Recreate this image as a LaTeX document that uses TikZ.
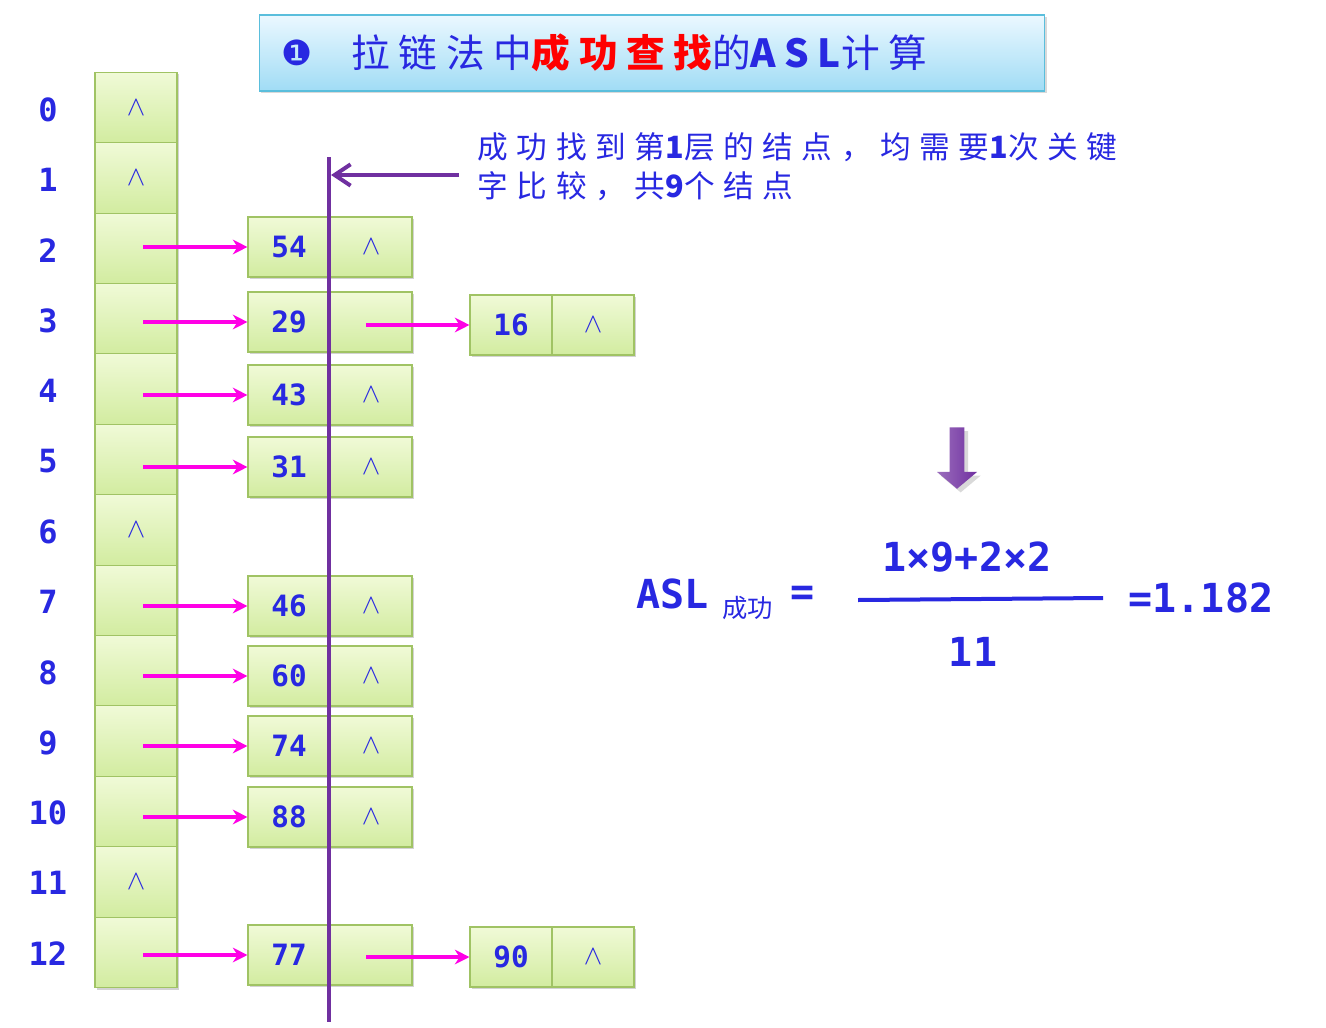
\documentclass[tikz,border=0pt]{standalone}
\usepackage{fontspec}
\setmainfont{DejaVu Sans Mono}
\newfontfamily\cjk{Noto Sans CJK SC}
\newfontfamily\cjkt[LetterSpace=22]{Noto Sans CJK SC}
\newfontfamily\cjkd[LetterSpace=28]{Noto Sans CJK SC}
\newfontfamily\djfont{DejaVu Sans}
\usetikzlibrary{arrows.meta,shadows,shapes.arrows}
\definecolor{tb}{RGB}{40,40,225}
\definecolor{mg}{RGB}{255,0,230}
\definecolor{pu}{RGB}{112,48,160}
\definecolor{gfa}{RGB}{240,250,215}
\definecolor{gfb}{RGB}{210,236,160}
\definecolor{gbd}{RGB}{160,195,100}
\tikzset{
 cell/.style={draw=gbd,line width=0.8pt,top color=gfa,bottom color=gfb,minimum width=61.5pt,minimum height=52.5pt,inner sep=0pt,text=tb,font=\bfseries\fontsize{22}{22}\selectfont,drop shadow={shadow xshift=1.5pt,shadow yshift=-1.5pt,opacity=0.35}},
 hcell/.style={cell,minimum height=45pt},
 idx/.style={text=tb,font=\bfseries\fontsize{24}{24}\selectfont},
 ptr/.style={mg,line width=2.6pt,-{Stealth[length=11pt,width=11pt]}},
}
\begin{document}
\begin{tikzpicture}[x=0.75pt,y=-0.75pt]
\useasboundingbox (0,0) rectangle (1326,1027);
% title
\node[draw={rgb,255:red,90;green,190;blue,220},line width=1pt,top color={rgb,255:red,235;green,248;blue,255},bottom color={rgb,255:red,160;green,220;blue,245},minimum width=589pt,minimum height=57pt,drop shadow={shadow xshift=1.5pt,shadow yshift=-1.5pt,opacity=0.3}] (title) at (652,53) {};
\node[text=tb,font=\djfont\fontsize{26}{26}\selectfont] (t1) at (297,53) {❶};
\node[anchor=west,text=tb,font=\cjkt\fontsize{29}{29}\selectfont] (tt) at (347,53) {拉链法中\textcolor{red}{\bfseries 成功查找}的{\bfseries ASL}计算};
% left column
\foreach \i in {0,...,12}{
 \node[cell,minimum height=52.8pt] (h\i) at (136,{107.5+70.4*\i}) {};
 \node[idx] (n\i) at (48,{110+70.3*\i}) {\i};
}
\foreach \i in {0,1,6,11}{ \node[text=tb,font=\fontsize{20}{20}\selectfont] (hn\i) at (h\i) {$\wedge$}; }
% chain nodes
\foreach \i/\k/\nx/\y in {2/54/1/247,3/29/0/322,4/43/1/395,5/31/1/467,7/46/1/606,8/60/1/676,9/74/1/746,10/88/1/817,12/77/0/955}{
 \node[hcell] (k\i) at (289,\y) {\k};
 \node[hcell] (p\i) at (371,\y) {\ifnum\nx=1 $\wedge$\fi};
 \draw[ptr] (143,\y) -- (k\i.west);
}
\node[hcell] (k3b) at (511,325) {16};
\node[hcell] (p3b) at (593,325) {$\wedge$};
\node[hcell] (k12b) at (511,957) {90};
\node[hcell] (p12b) at (593,957) {$\wedge$};
\draw[ptr] (366,325) -- (k3b.west);
\draw[ptr] (366,957) -- (k12b.west);
% purple line
\coordinate (vt) at (329,157); \coordinate (vb) at (329,1022);
\draw[pu,line width=3.5pt] (vt) -- (vb);
\coordinate (as) at (459,175); \coordinate (ae) at (331,175);
\draw[pu,line width=3pt,-{Straight Barb[length=12pt,width=16pt]}] (as) -- (ae);
\node[anchor=west,text=tb,font=\cjkd\fontsize{23}{23}\selectfont,align=left] (desc) at (473,167) {成功找到第{\bfseries 1}层的结点，均需要{\bfseries 1}次关键\\[6pt]字比较，共{\bfseries 9}个结点};
% down arrow
\node[single arrow,shape border rotate=270,left color=pu!70,right color=pu,draw=none,minimum width=30pt,minimum height=46pt,single arrow head extend=6pt,single arrow tip angle=100,drop shadow={opacity=0.3}] (down) at (957,455) {};
% formula
\node[anchor=west,text=tb,font=\bfseries\fontsize{30}{30}\selectfont] (asl) at (632,594) {ASL};
\node[anchor=west,text=tb,font=\cjk\fontsize{19}{19}\selectfont,inner sep=0pt] (sub) at (722,608) {成功};
\node[text=tb,font=\bfseries\fontsize{30}{30}\selectfont] (eq) at (803,596) {=};
\node[text=tb,font=\bfseries\fontsize{30}{30}\selectfont] (num) at (967,557) {1×9+2×2};
\coordinate (fl) at (858,600); \coordinate (fr) at (1103,598);
\draw[tb,line width=3pt] (fl) -- (fr);
\node[text=tb,font=\bfseries\fontsize{30}{30}\selectfont] (den) at (973,652) {11};
\node[anchor=west,text=tb,font=\bfseries\fontsize{30}{30}\selectfont] (res) at (1124,598) {=1.182};
\end{tikzpicture}
\end{document}
